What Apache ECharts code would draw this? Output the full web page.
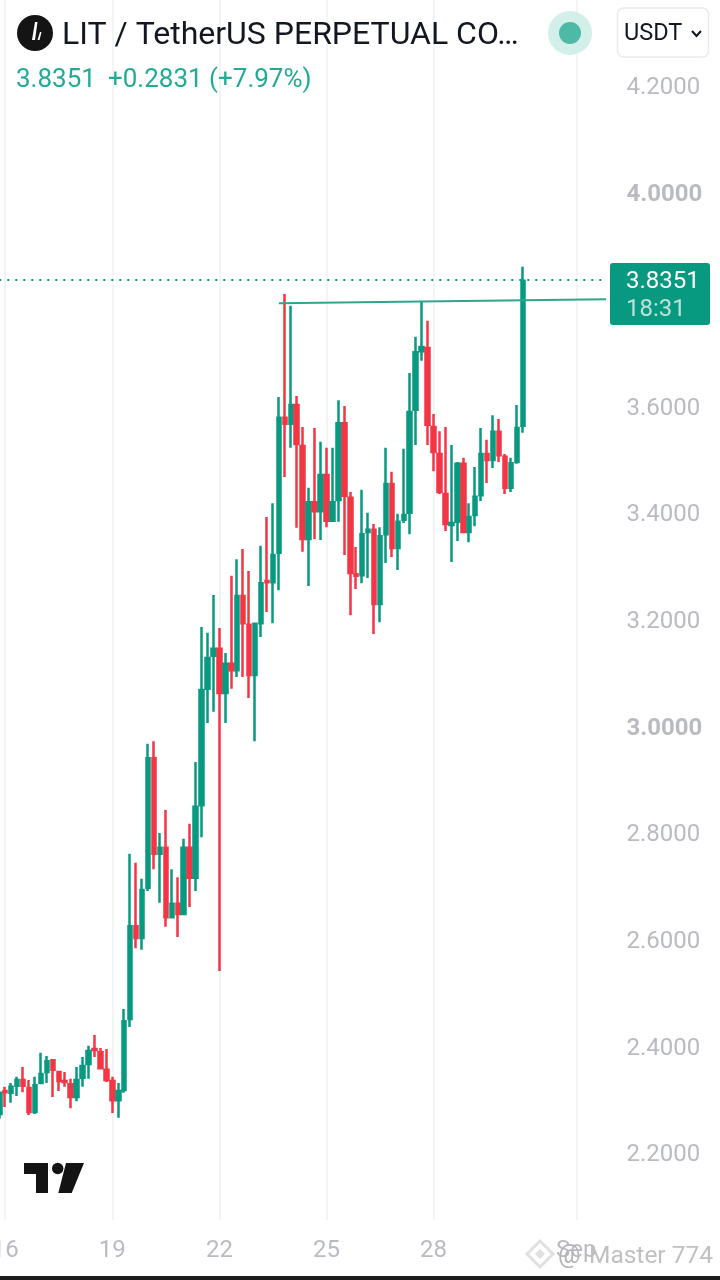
<!DOCTYPE html>
<html>
<head>
<meta charset="utf-8">
<style>html,body{margin:0;padding:0;background:#fff}#c{width:720px;height:1280px}</style>
<script src="https://cdn.jsdelivr.net/npm/echarts@6/dist/echarts.min.js"></script>
</head>
<body>
<div id="c"></div>
<script>
// open, close, low, high for each 4h candle
const candles = [
[2.273,2.313,2.264,2.314],[2.316,2.314,2.286,2.324],[2.313,2.324,2.294,2.331],[2.326,2.337,2.307,2.343],
[2.337,2.326,2.314,2.361],[2.322,2.277,2.271,2.337],[2.277,2.327,2.273,2.343],[2.331,2.348,2.329,2.388],
[2.352,2.372,2.331,2.382],[2.374,2.356,2.305,2.376],[2.352,2.335,2.316,2.354],[2.335,2.333,2.324,2.352],
[2.329,2.305,2.284,2.339],[2.305,2.337,2.297,2.361],[2.341,2.363,2.324,2.380],[2.367,2.391,2.339,2.401],
[2.395,2.393,2.380,2.421],[2.389,2.359,2.357,2.397],[2.356,2.337,2.333,2.395],[2.335,2.299,2.275,2.343],
[2.299,2.316,2.266,2.331],[2.318,2.447,2.313,2.470],[2.451,2.625,2.436,2.761],[2.625,2.603,2.584,2.744],
[2.603,2.693,2.581,2.714],[2.697,2.940,2.691,2.967],[2.940,2.761,2.732,2.972],[2.761,2.772,2.669,2.800],
[2.772,2.642,2.624,2.843],[2.642,2.667,2.641,2.732],[2.667,2.648,2.605,2.717],[2.648,2.772,2.646,2.789],
[2.772,2.716,2.661,2.817],[2.716,2.849,2.691,2.933],[2.852,3.068,2.792,3.186],[3.070,3.128,3.006,3.175],
[3.132,3.145,3.027,3.246],[3.145,3.062,2.541,3.184],[3.062,3.117,3.006,3.137],[3.117,3.105,3.070,3.282],
[3.105,3.244,3.092,3.313],[3.244,3.193,3.092,3.332],[3.190,3.096,3.053,3.291],[3.096,3.192,2.972,3.193],
[3.193,3.268,3.167,3.338],[3.272,3.270,3.214,3.392],[3.270,3.321,3.193,3.418],[3.325,3.578,3.255,3.617],
[3.578,3.567,3.467,3.810],[3.567,3.602,3.522,3.788],[3.602,3.529,3.372,3.619],[3.525,3.351,3.327,3.561],
[3.351,3.420,3.263,3.447],[3.420,3.403,3.351,3.559],[3.403,3.471,3.349,3.533],[3.471,3.385,3.373,3.522],
[3.385,3.420,3.383,3.522],[3.424,3.568,3.383,3.611],[3.568,3.432,3.321,3.600],[3.428,3.287,3.208,3.439],
[3.285,3.282,3.257,3.336],[3.283,3.360,3.268,3.443],[3.364,3.368,3.278,3.400],[3.368,3.229,3.173,3.379],
[3.229,3.356,3.195,3.373],[3.360,3.454,3.306,3.522],[3.454,3.334,3.317,3.477],[3.334,3.383,3.293,3.398],
[3.387,3.396,3.381,3.520],[3.400,3.589,3.360,3.662],[3.593,3.701,3.527,3.730],[3.703,3.711,3.685,3.797],
[3.709,3.565,3.527,3.760],[3.561,3.514,3.478,3.585],[3.510,3.439,3.435,3.553],[3.435,3.379,3.366,3.561],
[3.377,3.381,3.308,3.527],[3.383,3.492,3.347,3.495],[3.492,3.364,3.362,3.503],[3.364,3.392,3.345,3.418],
[3.396,3.430,3.375,3.486],[3.433,3.510,3.422,3.559],[3.510,3.499,3.456,3.537],[3.499,3.552,3.484,3.583],
[3.552,3.508,3.495,3.576],[3.505,3.447,3.435,3.510],[3.447,3.493,3.439,3.503],[3.495,3.559,3.492,3.602],
[3.563,3.835,3.550,3.861]
];
const categoryCount = 104;
const dayTickIndexes = [1, 19, 37, 55, 73, 97];
const dayTickLabels = ['16', '19', '22', '25', '28', 'Sep'];
const priceTicks = [2.2, 2.4, 2.6, 2.8, 3.0, 3.2, 3.4, 3.6, 4.0, 4.2];
const boldPrices = [3.0, 4.0];
const lastPriceLine = 3.837;
const trendStart = [47, 3.793];
const trendEnd = [102, 3.8005];

const UP = '#089981', DOWN = '#F23645', GRAY = '#b9bbc0', FONT = 'Roboto, sans-serif';
const categories = Array.from({length: categoryCount}, (_, i) => String(i));

const overlays = [
  // header
  {type: 'circle', shape: {cx: 35, cy: 33, r: 18}, style: {fill: '#141414'}},
  {type: 'polygon', shape: {points: [[35,22],[37.5,22],[35,40],[32,40]]}, style: {fill: '#fff'}},
  {type: 'polygon', shape: {points: [[40,32],[41.5,32],[39.5,40],[37.5,40]]}, style: {fill: '#fff'}},
  {type: 'text', x: 62, y: 36, style: {text: 'LIT / TetherUS PERPETUAL CO…', fill: '#131722', font: '32px Roboto', textVerticalAlign: 'middle'}},
  {type: 'text', x: 16, y: 80, style: {text: '3.8351', fill: '#22ab94', font: '26px Roboto', textVerticalAlign: 'middle'}},
  {type: 'text', x: 108, y: 80, style: {text: '+0.2831 (+7.97%)', fill: '#22ab94', font: '26px Roboto', textVerticalAlign: 'middle'}},
  {type: 'circle', shape: {cx: 570, cy: 33, r: 22}, style: {fill: '#d2efe9'}},
  {type: 'circle', shape: {cx: 570, cy: 33, r: 11}, style: {fill: '#4cbaa5'}},
  {type: 'rect', shape: {x: 617.5, y: 8, width: 91, height: 49, r: 6}, style: {fill: '#fff', stroke: '#e9eaec', lineWidth: 1.5}},
  {type: 'text', x: 624, y: 34, style: {text: 'USDT', fill: '#131722', font: '23.5px Roboto', textVerticalAlign: 'middle'}},
  {type: 'polyline', shape: {points: [[692,31],[696.5,36],[701,31]]}, style: {stroke: '#131722', lineWidth: 2, fill: null}},
  // last-price tag
  {type: 'rect', shape: {x: 610, y: 263, width: 100, height: 62, r: 3}, style: {fill: UP}},
  {type: 'text', x: 626, y: 282, style: {text: '3.8351', fill: '#fff', font: '24px Roboto', textVerticalAlign: 'middle'}},
  {type: 'text', x: 626, y: 310, style: {text: '18:31', fill: 'rgba(255,255,255,0.72)', font: '24px Roboto', textVerticalAlign: 'middle'}},
  // TradingView logo
  {type: 'polygon', shape: {points: [[24,1163],[48,1163],[48,1193],[36,1193],[36,1174],[24,1174]]}, style: {fill: '#131313'}},
  {type: 'circle', shape: {cx: 57.7, cy: 1168.5, r: 5.7}, style: {fill: '#131313'}},
  {type: 'polygon', shape: {points: [[66,1163],[84,1163],[71.7,1193],[58.3,1193]]}, style: {fill: '#131313'}},
  // watermark
  {type: 'polygon', shape: {points: [[540,1241],[553,1254],[540,1267],[527,1254]]}, style: {fill: 'none', stroke: '#e0e0e0', lineWidth: 3}},
  {type: 'polygon', shape: {points: [[540,1249],[545,1254],[540,1259],[535,1254]]}, style: {fill: '#e0e0e0'}},
  {type: 'text', x: 558, y: 1257, style: {text: '@', fill: '#b4b4b4', font: '25px Roboto', textVerticalAlign: 'middle'}},
  {type: 'text', x: 589, y: 1257, style: {text: 'Master 774', fill: '#c0c0c0', font: '24.5px Roboto', textVerticalAlign: 'middle'}},
  // bottom edge
  {type: 'rect', shape: {x: 0, y: 1276, width: 720, height: 4}, style: {fill: '#1c1c1c'}}
].map(e => Object.assign({z: 100}, e));

const chart = echarts.init(document.getElementById('c'), null, {renderer: 'canvas'});
chart.setOption({
  animation: false,
  backgroundColor: '#ffffff',
  grid: {left: -0.7, right: 108, top: 0, height: 1220, outerBoundsMode: 'none', containLabel: false},
  xAxis: {
    type: 'category', data: categories, boundaryGap: false,
    axisLine: {show: false}, axisTick: {show: false},
    axisLabel: {
      color: GRAY, fontSize: 24, fontFamily: FONT, margin: 19, hideOverlap: false,
      interval: i => dayTickIndexes.includes(i),
      formatter: v => dayTickLabels[dayTickIndexes.indexOf(+v)] || ''
    },
    splitLine: {show: true, interval: i => dayTickIndexes.includes(i), lineStyle: {color: '#eff6f4', width: 2}}
  },
  yAxis: {
    type: 'value', position: 'right', min: 2.0744, max: 4.3612, scale: true,
    axisLine: {show: false}, axisTick: {show: false}, splitLine: {show: false},
    axisLabel: {
      customValues: priceTicks, margin: 14.5, color: GRAY, fontSize: 24, fontFamily: FONT, padding: [5, 0, 0, 0],
      formatter: v => {
        const s = v.toFixed(4);
        return boldPrices.some(b => Math.abs(b - v) < 1e-6) ? '{b|' + s + '}' : s;
      },
      rich: {b: {color: GRAY, fontSize: 24, fontFamily: FONT, fontWeight: 'bold'}}
    }
  },
  series: [{
    type: 'candlestick',
    data: candles,
    barWidth: 4,
    itemStyle: {color: UP, color0: DOWN, borderColor: UP, borderColor0: DOWN, borderWidth: 2.5},
    markLine: {
      silent: true, symbol: 'none', animation: false, label: {show: false},
      data: [
        [{xAxis: String(trendStart[0]), yAxis: trendStart[1], lineStyle: {color: '#2fa58e', width: 2, type: 'solid'}},
         {xAxis: String(trendEnd[0]), yAxis: trendEnd[1]}],
        [{xAxis: '0', yAxis: lastPriceLine, lineStyle: {color: UP, width: 2, type: [2, 6]}},
         {xAxis: '102', yAxis: lastPriceLine}]
      ]
    }
  }],
  graphic: {elements: overlays}
});
</script>
</body>
</html>
